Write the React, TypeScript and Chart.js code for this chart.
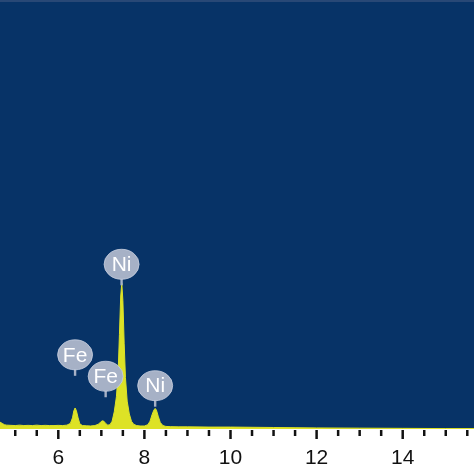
import React, { useEffect, useRef } from 'react';
import { Chart, registerables } from 'chart.js';
Chart.register(...registerables);

// Spectrum: energy (keV) and counts (relative, % of full scale)
const energies = [
  4.646, 4.7, 4.75, 4.8, 4.9, 5.0, 5.1, 5.2, 5.3, 5.4, 5.5, 5.6, 5.7, 5.8, 5.9, 6.0, 6.1, 6.2,
  6.28, 6.33, 6.36, 6.39, 6.42, 6.46, 6.5, 6.56, 6.65, 6.75, 6.85, 6.93, 6.98, 7.02, 7.06, 7.1,
  7.15, 7.2, 7.25, 7.3, 7.35, 7.39, 7.42, 7.45, 7.475, 7.5, 7.53, 7.56, 7.6, 7.65, 7.7, 7.75,
  7.82, 7.9, 8.0, 8.08, 8.13, 8.18, 8.22, 8.25, 8.28, 8.32, 8.37, 8.43, 8.5, 8.6, 8.8, 9.0,
  9.5, 10.0, 10.5, 11.0, 11.5, 12.0, 13.0, 14.0, 15.0, 15.66,
];
const counts = [
  1.6, 1.3, 1.0, 0.9, 0.85, 0.8, 0.9, 0.8, 0.85, 0.8, 0.9, 0.8, 0.85, 0.8, 0.8, 0.85, 0.8, 0.9,
  1.3, 2.6, 4.2, 4.9, 4.3, 2.6, 1.2, 0.8, 0.75, 0.7, 0.8, 1.1, 1.6, 1.9, 1.8, 1.3,
  0.9, 1.0, 1.8, 4.0, 7.5, 13, 22, 31, 34, 30, 20, 12, 6.5, 3.5, 1.8, 1.1,
  0.8, 0.7, 0.7, 1.0, 1.8, 3.4, 4.4, 4.8, 4.4, 3.0, 1.5, 0.8, 0.6, 0.55, 0.5, 0.5,
  0.45, 0.45, 0.4, 0.35, 0.3, 0.25, 0.2, 0.15, 0.1, 0.1,
];

// Peak labels (element, energy of the marker, height of the marker's tip)
const peakNames = ['Fe', 'Fe', 'Ni', 'Ni'];
const peakEnergies = [6.39, 7.1, 7.47, 8.25];
const peakTips = [12.4, 7.4, 33.5, 5.2];

const X_MIN = 4.646;
const X_MAX = 15.656;
const BLUE = 'rgb(7,51,103)';
const YELLOW = 'rgb(221,226,38)';
const BALLOON = 'rgb(166,177,198)';

export default function App() {
  const ref = useRef<HTMLCanvasElement | null>(null);

  useEffect(() => {
    document.body.style.margin = '0';
    document.body.style.overflow = 'hidden';
    const canvas = ref.current!;
    const bgPlugin = {
      id: 'bg',
      beforeDraw(chart: any) {
        const { ctx, chartArea: a } = chart;
        ctx.save();
        ctx.fillStyle = BLUE;
        ctx.fillRect(a.left, a.top, a.right - a.left, a.bottom - a.top);
        ctx.fillStyle = 'rgb(40,72,118)';
        ctx.fillRect(a.left, a.top, a.right - a.left, 2);
        ctx.restore();
      },
    };
    const ticksPlugin = {
      id: 'ticksMarks',
      afterDraw(chart: any) {
        const { ctx, chartArea: a } = chart;
        const xs = chart.scales.x;
        ctx.save();
        ctx.strokeStyle = '#111';
        ctx.lineWidth = 2.5;
        xs.ticks.forEach((t: any) => {
          const px = xs.getPixelForValue(t.value);
          const major = Math.abs(t.value % 2) < 1e-9;
          ctx.beginPath();
          ctx.moveTo(px, a.bottom + 1);
          ctx.lineTo(px, a.bottom + (major ? 10 : 7));
          ctx.stroke();
        });
        ctx.restore();
      },
    };
    const balloonPlugin = {
      id: 'balloons',
      afterDatasetsDraw(chart: any) {
        const { ctx } = chart;
        const xs = chart.scales.x;
        const ys = chart.scales.y;
        ctx.save();
        peakNames.forEach((name, i) => {
          const x = xs.getPixelForValue(peakEnergies[i]);
          const y = ys.getPixelForValue(peakTips[i]);
          const stem = 6;
          const rx = 17.5;
          const ry = 15;
          const cy = y - stem - ry;
          ctx.fillStyle = BALLOON;
          ctx.fillRect(x - 1.2, y - stem - 2, 2.4, stem + 2);
          ctx.beginPath();
          ctx.ellipse(x, cy, rx, ry, 0, 0, Math.PI * 2);
          ctx.fill();
          ctx.strokeStyle = 'rgba(200,208,224,0.8)';
          ctx.lineWidth = 1;
          ctx.stroke();
          ctx.fillStyle = '#ffffff';
          ctx.font = '21px "Liberation Sans", Arial, sans-serif';
          ctx.textAlign = 'center';
          ctx.textBaseline = 'middle';
          ctx.fillText(name, x, cy + 1);
        });
        ctx.restore();
      },
    };

    const chart = new Chart(canvas, {
      type: 'line',
      data: {
        datasets: [
          {
            data: energies.map((e, i) => ({ x: e, y: counts[i] })),
            fill: 'origin',
            backgroundColor: YELLOW,
            borderColor: YELLOW,
            borderWidth: 1,
            pointRadius: 0,
            tension: 0,
          },
        ],
      },
      options: {
        animation: false,
        responsive: true,
        maintainAspectRatio: false,
        devicePixelRatio: 1,
        layout: { padding: 0 },
        plugins: { legend: { display: false }, tooltip: { enabled: false } },
        scales: {
          x: {
            type: 'linear',
            min: X_MIN,
            max: X_MAX,
            position: 'bottom',
            grid: { display: false, drawTicks: true, tickLength: 17 },
            border: { display: false },
            afterFit: (s: any) => {
              s.height = 45;
            },
            ticks: {
              stepSize: 0.5,
              includeBounds: false,
              autoSkip: false,
              maxRotation: 0,
              padding: 0,
              color: '#111',
              font: { size: 21, family: '"Liberation Sans", Arial, sans-serif' },
              callback: (v: any) => (Math.abs(Number(v) % 2) < 1e-9 ? String(v) : ''),
            },
          },
          y: { display: false, min: 0, max: 100 },
        },
      },
      plugins: [bgPlugin, ticksPlugin, balloonPlugin],
    });
    return () => chart.destroy();
  }, []);

  return (
    <div style={{ position: 'fixed', left: 0, top: 0, width: 474, height: 474 }}>
      <canvas ref={ref} />
    </div>
  );
}
